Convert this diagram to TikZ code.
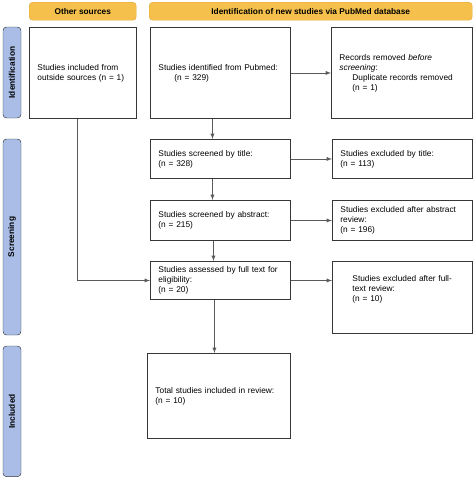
\documentclass[tikz,border=0pt]{standalone}
\usepackage{fontspec}
\setmainfont{Liberation Sans}
\definecolor{naranja}{RGB}{245, 193, 76}
\definecolor{naranjaborde}{RGB}{228, 170, 58}
\definecolor{azulclaro}{RGB}{169, 189, 230}
\definecolor{gris}{RGB}{55, 55, 55}
\definecolor{linea}{RGB}{90, 90, 90}
\usetikzlibrary{arrows}
\usetikzlibrary{positioning}
\usetikzlibrary{calc}

\tikzset{
    caja/.style={draw=gris, line width=0.8pt, align=left, anchor=north west, inner xsep=0.24cm, font=\fontsize{7.1}{8.5}\selectfont},
    cabecera/.style={draw=naranjaborde, fill=naranja, rounded corners=3pt, anchor=north west, minimum height=0.54cm, font=\bfseries\fontsize{7.1}{8.5}\selectfont},
    fase/.style={draw=gris, fill=azulclaro, rounded corners=3pt, rotate=90, minimum height=0.54cm, inner sep=0pt, font=\bfseries\fontsize{7.1}{8.5}\selectfont},
    flecha/.style={draw=linea, line width=0.6pt, -latex},
}

\begin{document}
\begin{tikzpicture}
    \useasboundingbox (0,0) rectangle (14.22,-14.37);

    % Headers
    \node[cabecera, minimum width=3.21cm] (hotras) at (0.87,-0.06) {Other sources};
    \node[cabecera, minimum width=9.69cm] (hpubmed) at (4.47,-0.06) {Identification of new studies via PubMed database};

    % Phases
    \node[fase, minimum width=2.73cm] (fident) at (0.36,-2.175) {Identification};
    \node[fase, minimum width=5.88cm] (fscreen) at (0.36,-7.11) {Screening};
    \node[fase, minimum width=3.92cm] (fincl) at (0.36,-12.34) {Included};

    % Identification
    \node[caja, text width=2.73cm, minimum height=2.73cm] (otras) at (0.87,-0.81) {Studies included from\\outside sources (n = 1)};
    \node[caja, text width=3.72cm, minimum height=2.73cm] (pubmed) at (4.50,-0.81) {Studies identified from Pubmed:\\\hspace*{0.48cm}(n = 329)};
    \node[caja, text width=3.75cm, minimum height=2.73cm] (removed) at (9.93,-0.81) {Records removed \textit{before}\\\textit{screening}:\\\hspace*{0.39cm}Duplicate records removed\\\hspace*{0.39cm}(n = 1)};

    % Screening
    \node[caja, text width=3.72cm, minimum height=1.17cm] (titulo) at (4.50,-4.17) {Studies screened by title:\\(n = 328)};
    \node[caja, text width=3.72cm, minimum height=1.17cm] (extitulo) at (9.96,-4.17) {Studies excluded by title:\\(n = 113)};
    \node[caja, text width=3.72cm, minimum height=1.20cm] (resumen) at (4.50,-6.00) {Studies screened by abstract:\\(n = 215)};
    \node[caja, text width=3.72cm, minimum height=1.20cm] (exresumen) at (9.96,-6.00) {Studies excluded after abstract\\review:\\(n = 196)};
    \node[caja, text width=3.72cm, minimum height=1.14cm] (completo) at (4.50,-7.83) {Studies assessed by full text for\\eligibility:\\(n = 20)};
    \node[caja, text width=3.00cm, inner xsep=0.6cm, minimum height=2.16cm] (excompleto) at (9.96,-7.83) {Studies excluded after full-\\text review:\\(n = 10)\\[0.24cm]\mbox{}};

    % Included
    \node[caja, text width=3.81cm, minimum height=2.55cm] (total) at (4.41,-10.59) {Total studies included in review:\\(n = 10)};

    % Arrows
    \draw[flecha] (pubmed.east) -- (removed.west);
    \draw[flecha] ([xshift=-0.24cm]pubmed.south) -- ([xshift=-0.24cm]titulo.north);
    \draw[flecha] ([xshift=-0.24cm]titulo.south) -- ([xshift=-0.24cm]resumen.north);
    \draw[flecha] ([xshift=-0.21cm]resumen.south) -- ([xshift=-0.21cm]completo.north);
    \draw[flecha] ([xshift=-0.18cm]completo.south) -- ([xshift=-0.18cm]completo.south |- total.north);
    \draw[flecha] (titulo.east) -- (extitulo.west);
    \draw[flecha] (resumen.east) -- (exresumen.west);
    \draw[flecha] (completo.east) -- (completo.east -| excompleto.west);
    \draw[flecha] ([xshift=-0.165cm]otras.south) |- (completo.west);
\end{tikzpicture}
\end{document}
